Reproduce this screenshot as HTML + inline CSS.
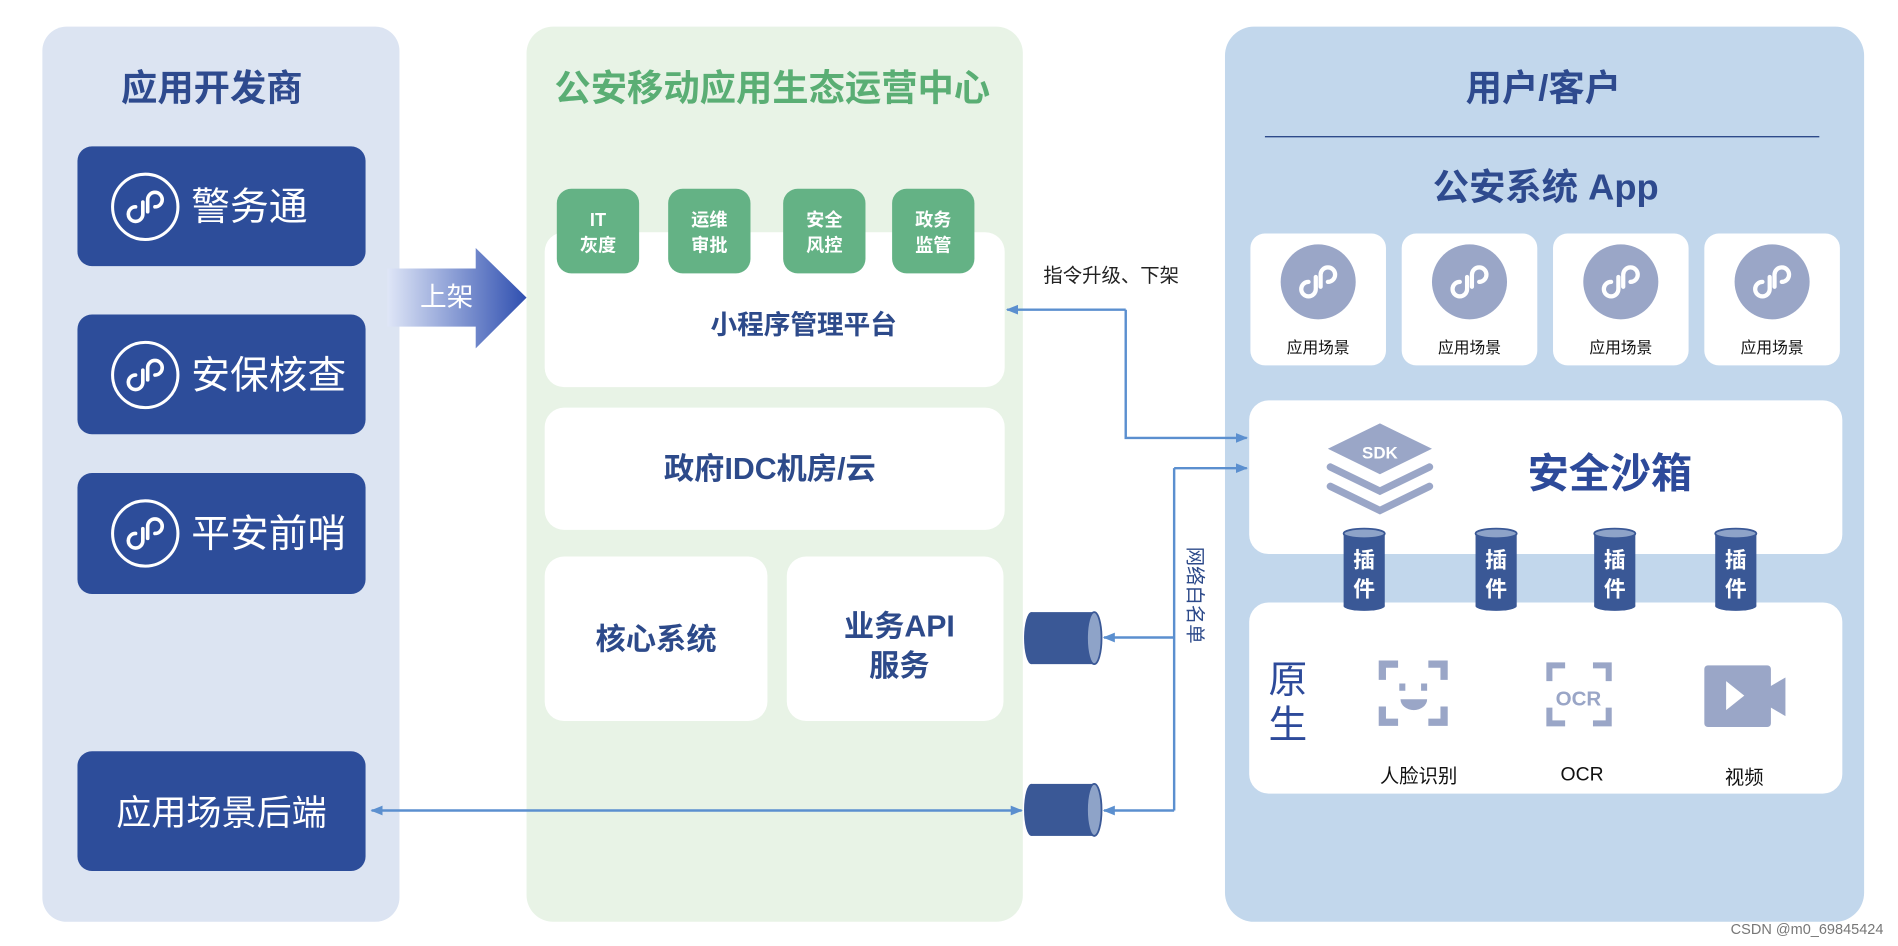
<!DOCTYPE html>
<html><head><meta charset="utf-8"><style>
html,body{margin:0;padding:0;background:#fff;width:1898px;height:946px;overflow:hidden}
svg{display:block}
text{font-family:"Liberation Sans","Noto Sans CJK SC",sans-serif}
</style></head><body>
<svg width="1898" height="946" viewBox="0 0 1568 782" preserveAspectRatio="none">
<defs>
<linearGradient id="ag" x1="0" x2="1" y1="0" y2="0"><stop offset="0" stop-color="#dfe6f7"/><stop offset="1" stop-color="#2f4fb0"/></linearGradient>
<marker id="ar" markerWidth="10" markerHeight="10" refX="9" refY="5" orient="auto" markerUnits="userSpaceOnUse"><path d="M0,1 L10,5 L0,9 Z" fill="#5b8fcf"/></marker>
<marker id="al" markerWidth="10" markerHeight="10" refX="1" refY="5" orient="auto" markerUnits="userSpaceOnUse"><path d="M10,1 L0,5 L10,9 Z" fill="#5b8fcf"/></marker>
<g id="mp"><circle r="27" fill="none" stroke="#fff" stroke-width="2.5"/><path d="M-2,-4 V6 a6,6 0 1 1 -6,-6 M2,4 V-6 a6,6 0 1 1 6,6" fill="none" stroke="#fff" stroke-width="3" stroke-linecap="round"/></g>
<g id="mpg"><circle r="31" fill="#9aa6c7"/><path d="M-2,-4 V6 a6,6 0 1 1 -6,-6 M2,4 V-6 a6,6 0 1 1 6,6" fill="none" stroke="#fff" stroke-width="3.5" stroke-linecap="round"/></g>
<g id="cyl"><rect x="-17" y="4" width="34" height="60" fill="#3a5896"/><ellipse cx="0" cy="64" rx="17" ry="4" fill="#3a5896"/><ellipse cx="0" cy="4" rx="17" ry="4" fill="#8ea3c8" stroke="#3a5896" stroke-width="1.5"/>
<text x="0" y="32" font-size="18" font-weight="bold" fill="#fff" text-anchor="middle">插</text><text x="0" y="56" font-size="18" font-weight="bold" fill="#fff" text-anchor="middle">件</text></g>
<g id="hcyl"><rect x="6" y="0" width="52" height="43" fill="#3a5896"/><ellipse cx="6" cy="21.5" rx="6" ry="21.5" fill="#3a5896"/><ellipse cx="58" cy="21.5" rx="6" ry="21.5" fill="#8ea3c8" stroke="#3a5896" stroke-width="1.5"/></g>
</defs>
<rect x="35" y="22" width="295" height="740" rx="20" fill="#dce4f2"/>
<text x="175" y="83" font-size="30" font-weight="bold" fill="#2e4a8e" text-anchor="middle">应用开发商</text>
<rect x="64" y="121" width="238" height="99" rx="12" fill="#2d4d9a"/>
<rect x="64" y="260" width="238" height="99" rx="12" fill="#2d4d9a"/>
<rect x="64" y="391" width="238" height="100" rx="12" fill="#2d4d9a"/>
<rect x="64" y="621" width="238" height="99" rx="12" fill="#2d4d9a"/>
<use href="#mp" x="120" y="171"/><use href="#mp" x="120" y="310"/><use href="#mp" x="120" y="441"/>
<g font-size="32" fill="#fff"><text x="158" y="182">警务通</text><text x="158" y="321">安保核查</text><text x="158" y="452">平安前哨</text><text x="183" y="682" text-anchor="middle" font-size="29">应用场景后端</text></g>
<rect x="435" y="22" width="410" height="740" rx="22" fill="#e8f3e6"/>
<text x="638" y="83" font-size="30" font-weight="bold" fill="#5aae74" text-anchor="middle">公安移动应用生态运营中心</text>
<rect x="450" y="192" width="380" height="128" rx="16" fill="#fff"/>
<g fill="#64b285"><rect x="460" y="156" width="68" height="70" rx="12"/><rect x="552" y="156" width="68" height="70" rx="12"/><rect x="647" y="156" width="68" height="70" rx="12"/><rect x="737" y="156" width="68" height="70" rx="12"/></g>
<g font-size="15" font-weight="bold" fill="#fff" text-anchor="middle"><text x="494" y="187">IT</text><text x="494" y="208">灰度</text><text x="586" y="187">运维</text><text x="586" y="208">审批</text><text x="681" y="187">安全</text><text x="681" y="208">风控</text><text x="771" y="187">政务</text><text x="771" y="208">监管</text></g>
<text x="664" y="276" font-size="22" font-weight="bold" fill="#2d4a8a" text-anchor="middle">小程序管理平台</text>
<rect x="450" y="337" width="380" height="101" rx="16" fill="#fff"/>
<text x="636" y="396" font-size="25" font-weight="bold" fill="#2d4a8a" text-anchor="middle">政府IDC机房/云</text>
<rect x="450" y="460" width="184" height="136" rx="16" fill="#fff"/>
<rect x="650" y="460" width="179" height="136" rx="16" fill="#fff"/>
<text x="542" y="537" font-size="25" font-weight="bold" fill="#2d4a8a" text-anchor="middle">核心系统</text>
<text x="743" y="526" font-size="25" font-weight="bold" fill="#2d4a8a" text-anchor="middle">业务API</text>
<text x="743" y="559" font-size="25" font-weight="bold" fill="#2d4a8a" text-anchor="middle">服务</text>
<path d="M320,222 H393 V205 L435,246 L393,288 V270 H320 Z" fill="url(#ag)"/>
<text x="369" y="253" font-size="22" fill="#fff" text-anchor="middle">上架</text>
<rect x="1012" y="22" width="528" height="740" rx="24" fill="#c2d7ec"/>
<text x="1275" y="83" font-size="30" font-weight="bold" fill="#2e4a8e" text-anchor="middle">用户/客户</text>
<line x1="1045" y1="113" x2="1503" y2="113" stroke="#2d4a8a" stroke-width="1.2"/>
<text x="1277" y="165" font-size="30" font-weight="bold" fill="#2e4a8e" text-anchor="middle">公安系统 App</text>
<g fill="#fff"><rect x="1033" y="193" width="112" height="109" rx="12"/><rect x="1158" y="193" width="112" height="109" rx="12"/><rect x="1283" y="193" width="112" height="109" rx="12"/><rect x="1408" y="193" width="112" height="109" rx="12"/></g>
<use href="#mpg" x="1089" y="233"/><use href="#mpg" x="1214" y="233"/><use href="#mpg" x="1339" y="233"/><use href="#mpg" x="1464" y="233"/>
<g font-size="13" fill="#111" text-anchor="middle"><text x="1089" y="292">应用场景</text><text x="1214" y="292">应用场景</text><text x="1339" y="292">应用场景</text><text x="1464" y="292">应用场景</text></g>
<rect x="1032" y="331" width="490" height="127" rx="16" fill="#fff"/>
<path d="M1140,350 L1183,371 L1140,392 L1097,371 Z" fill="#9aa6c7"/>
<text x="1140" y="379" font-size="14" font-weight="bold" fill="#fff" text-anchor="middle">SDK</text>
<path d="M1099,386 L1140,406 L1181,386" fill="none" stroke="#9aa6c7" stroke-width="6" stroke-linecap="round"/>
<path d="M1099,402 L1140,422 L1181,402" fill="none" stroke="#9aa6c7" stroke-width="6" stroke-linecap="round"/>
<text x="1330" y="403" font-size="34" font-weight="bold" fill="#2d4a9a" text-anchor="middle">安全沙箱</text>
<rect x="1032" y="498" width="490" height="158" rx="16" fill="#fff"/>
<use href="#cyl" x="1127" y="437"/><use href="#cyl" x="1236" y="437"/><use href="#cyl" x="1334" y="437"/><use href="#cyl" x="1434" y="437"/>
<text x="1064" y="573" font-size="32" fill="#2d4a9a" text-anchor="middle">原</text>
<text x="1064" y="610" font-size="32" fill="#2d4a9a" text-anchor="middle">生</text>
<g fill="none" stroke="#9aa6c7" stroke-width="6"><path d="M1142,562 V549 H1155 M1180,549 H1193 V562 M1193,584 V597 H1180 M1155,597 H1142 V584"/></g>
<rect x="1156" y="565" width="5" height="6" fill="#9aa6c7"/><rect x="1174" y="565" width="5" height="6" fill="#9aa6c7"/>
<path d="M1157,578 H1179 A11,9 0 0 1 1157,578 Z" fill="#9aa6c7"/>
<g fill="none" stroke="#9aa6c7" stroke-width="5"><path d="M1280,563 V550 H1293 M1316,550 H1329 V563 M1329,585 V598 H1316 M1293,598 H1280 V585"/></g>
<text x="1304" y="583" font-size="17" font-weight="bold" fill="#9aa6c7" text-anchor="middle">OCR</text>
<rect x="1408" y="550" width="55" height="51" rx="3" fill="#9aa6c7"/><path d="M1458,570 L1475,560 V592 L1458,582 Z" fill="#9aa6c7"/><path d="M1426,563 L1441,575 L1426,587 Z" fill="#fff"/>
<g font-size="16" fill="#111" text-anchor="middle"><text x="1172" y="647">人脸识别</text><text x="1307" y="645">OCR</text><text x="1441" y="648">视频</text></g>
<g fill="none" stroke="#5b8fcf" stroke-width="2">
<path d="M930,256 H832" marker-end="url(#ar)"/>
<path d="M930,256 V362 H1030" marker-end="url(#ar)"/>
<path d="M970,387 H1030" marker-end="url(#ar)"/>
<path d="M970,387 V670"/>
<path d="M970,527 H912" marker-end="url(#ar)"/>
<path d="M970,670 H912" marker-end="url(#ar)"/>
<path d="M307,670 H844" marker-start="url(#al)" marker-end="url(#ar)"/>
</g>
<use href="#hcyl" x="846" y="506"/><use href="#hcyl" x="846" y="648"/>
<text x="862" y="233" font-size="16" fill="#222">指令升级、下架</text>
<g font-size="16" fill="#2d4a8a" text-anchor="middle" transform="translate(982,492) rotate(90)"><text x="0" y="0">网络白名单</text></g>
<text x="1556" y="772" font-size="12" fill="#777" text-anchor="end">CSDN @m0_69845424</text>
</svg>
</body></html>
